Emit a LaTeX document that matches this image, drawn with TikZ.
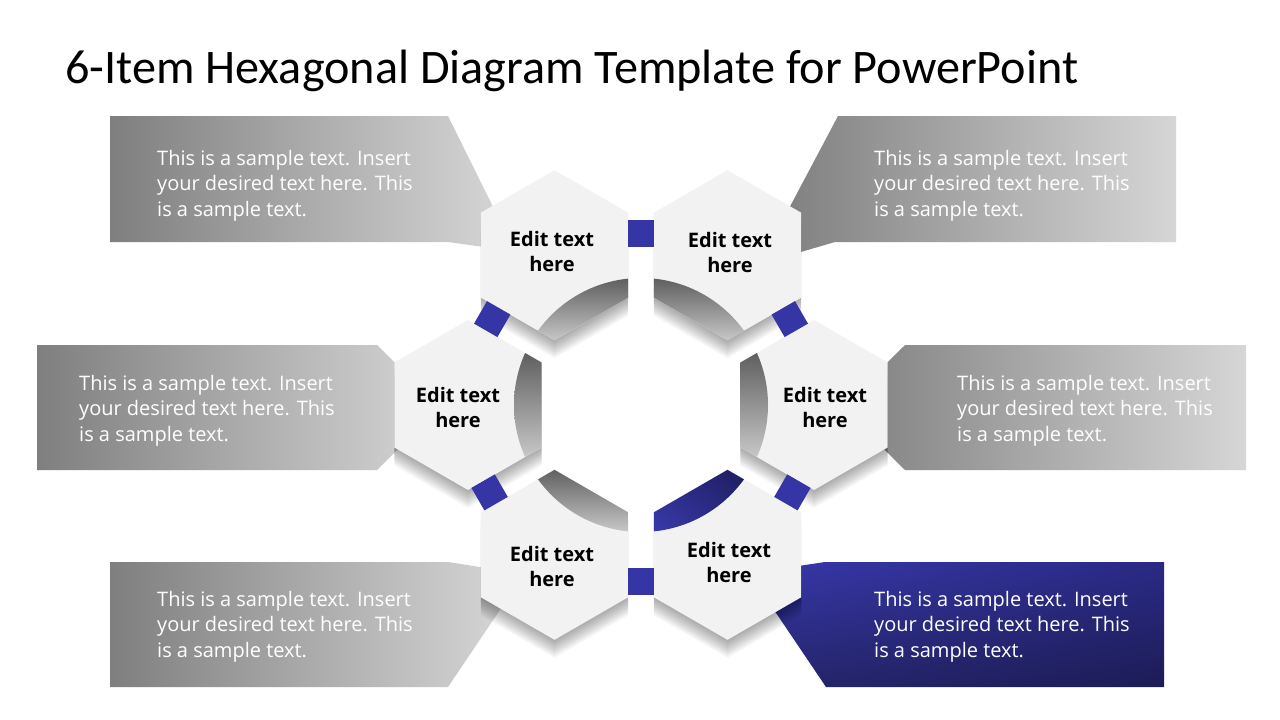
\documentclass[tikz,border=0pt]{standalone}
\usepackage{fontspec}
\newfontfamily\bodyfont{Open Sans}
\newfontfamily\titlefont{Carlito}
\usetikzlibrary{calc,shadings}
\definecolor{hexfill}{HTML}{F2F2F2}
\definecolor{connblue}{HTML}{3535A5}
\definecolor{callL}{HTML}{7F7F7F}
\definecolor{callR}{HTML}{D6D6D6}
\definecolor{inDark}{HTML}{5E5E5E}
\definecolor{inLight}{HTML}{C8C8C8}
\definecolor{bUL}{HTML}{3737A8}
\definecolor{bUR}{HTML}{2A2A85}
\definecolor{bLL}{HTML}{25256C}
\definecolor{bLR}{HTML}{1C1C56}
\definecolor{iUL}{HTML}{2C2C8C}
\definecolor{iUR}{HTML}{1C1C5A}
\definecolor{iLL}{HTML}{3A3AAC}
\definecolor{iLR}{HTML}{2A2A80}
\tikzset{
  hex/.style={insert path={++(0,-85) -- ++(73.61,42.5) -- ++(0,85) -- ++(-73.61,42.5) -- ++(-73.61,-42.5) -- ++(0,-85) -- cycle}},
  grayshade/.style={left color=callL, right color=callR},
  inshade/.style={top color=inDark, bottom color=inLight},
  conn/.style={rectangle, fill=connblue, minimum width=26pt, minimum height=27pt, inner sep=0pt, outer sep=0pt},
  hexlabel/.style={font=\bodyfont\bfseries\fontsize{20}{25}\selectfont, align=center, text=black, inner sep=0pt},
  calltext/.style={font=\bodyfont\fontsize{20}{25.5}\selectfont, align=left, text=white, inner sep=0pt, anchor=west},
}
\begin{document}
\begin{tikzpicture}[x=1pt,y=-1pt]
\useasboundingbox (0,0) rectangle (1280,720);
\fill[white] (0,0) rectangle (1280,720);

% centres
\coordinate (O) at (641,405);
\coordinate (h1) at (554.5,255.2);
\coordinate (h2) at (727.5,255.2);
\coordinate (h3) at (468,405);
\coordinate (h4) at (814,405);
\coordinate (h5) at (554.5,554.8);
\coordinate (h6) at (727.5,554.8);

% title
\node[anchor=base west, font=\titlefont\fontsize{48.2}{56}\selectfont, inner sep=0pt] (title) at (65,83) {6-Item Hexagonal Diagram Template for PowerPoint};

% callouts
\shade[grayshade] (110,116) -- (448,116) -- (505,231) -- (505,250) -- (448,242) -- (110,242) -- cycle;
\shade[grayshade] (838,116) -- (1176,116) -- (1176,242) -- (835,242) -- (777,259) -- (777,231) -- cycle;
\shade[grayshade] (37,345) -- (377,345) -- (440,407.5) -- (377,470) -- (37,470) -- cycle;
\shade[grayshade] (905,345) -- (1246,345) -- (1246,470) -- (905,470) -- (842,407.5) -- cycle;
\shade[grayshade] (110,562) -- (448,562) -- (505,571) -- (510,595) -- (448,687) -- (110,687) -- cycle;
\shade[upper left=bUL, upper right=bUR, lower left=bLL, lower right=bLR] (825,562) -- (1164,562) -- (1164,687) -- (826,687) -- (770,604) -- (772,570) -- cycle;

% shadows
\foreach \h in {h1,h2,h3,h4,h5,h6}{
  \foreach \k in {1,...,10}{
    \fill[black, opacity=0.035] ($(\h)+(0,\k*1.8)$) [hex];
  }
}

% hexagons
\foreach \h in {h1,h2,h3,h4,h5,h6}{
  \fill[hexfill] (\h) [hex];
}

% inner arc segments
\begin{scope}
  \clip (h1) [hex]; \clip (O) circle (127);
  \shade[inshade] (530,278) rectangle (630,341);
\end{scope}
\begin{scope}
  \clip (h2) [hex]; \clip (O) circle (127);
  \shade[inshade] (650,278) rectangle (750,341);
\end{scope}
\begin{scope}
  \clip (h3) [hex]; \clip (O) circle (127);
  \shade[inshade] (510,352) rectangle (545,458);
\end{scope}
\begin{scope}
  \clip (h4) [hex]; \clip (O) circle (127);
  \shade[inshade] (737,352) rectangle (772,458);
\end{scope}
\begin{scope}
  \clip (h5) [hex]; \clip (O) circle (127);
  \shade[inshade] (530,468) rectangle (630,532);
\end{scope}
\begin{scope}
  \clip (h6) [hex]; \clip (O) circle (127);
  \shade[upper left=iUL, upper right=iUR, lower left=iLL, lower right=iLR] (650,468) rectangle (750,532);
\end{scope}

% blue connectors
\node[conn] (k1) at (641,233.2) {};
\node[conn, rotate=60] (k2) at (492.2,319.1) {};
\node[conn, rotate=-60] (k3) at (789.8,319.1) {};
\node[conn, rotate=-60] (k4) at (489.6,492.4) {};
\node[conn, rotate=60] (k5) at (792.4,492.4) {};
\node[conn] (k6) at (641,581.8) {};

% hexagon labels
\node[hexlabel] (t1) at (552,251) {Edit text\\here};
\node[hexlabel] (t2) at (730,252) {Edit text\\here};
\node[hexlabel] (t3) at (458,407) {Edit text\\here};
\node[hexlabel] (t4) at (825,407) {Edit text\\here};
\node[hexlabel] (t5) at (552,566) {Edit text\\here};
\node[hexlabel] (t6) at (729,562) {Edit text\\here};

% callout texts
\node[calltext] (c1) at (157,185.5) {This is a sample text. Insert\\your desired text here. This\\is a sample text.};
\node[calltext] (c2) at (874,185.5) {This is a sample text. Insert\\your desired text here. This\\is a sample text.};
\node[calltext] (c3) at (79,410.5) {This is a sample text. Insert\\your desired text here. This\\is a sample text.};
\node[calltext] (c4) at (957,410.5) {This is a sample text. Insert\\your desired text here. This\\is a sample text.};
\node[calltext] (c5) at (157,626.5) {This is a sample text. Insert\\your desired text here. This\\is a sample text.};
\node[calltext] (c6) at (874,626.5) {This is a sample text. Insert\\your desired text here. This\\is a sample text.};
\end{tikzpicture}
\end{document}
